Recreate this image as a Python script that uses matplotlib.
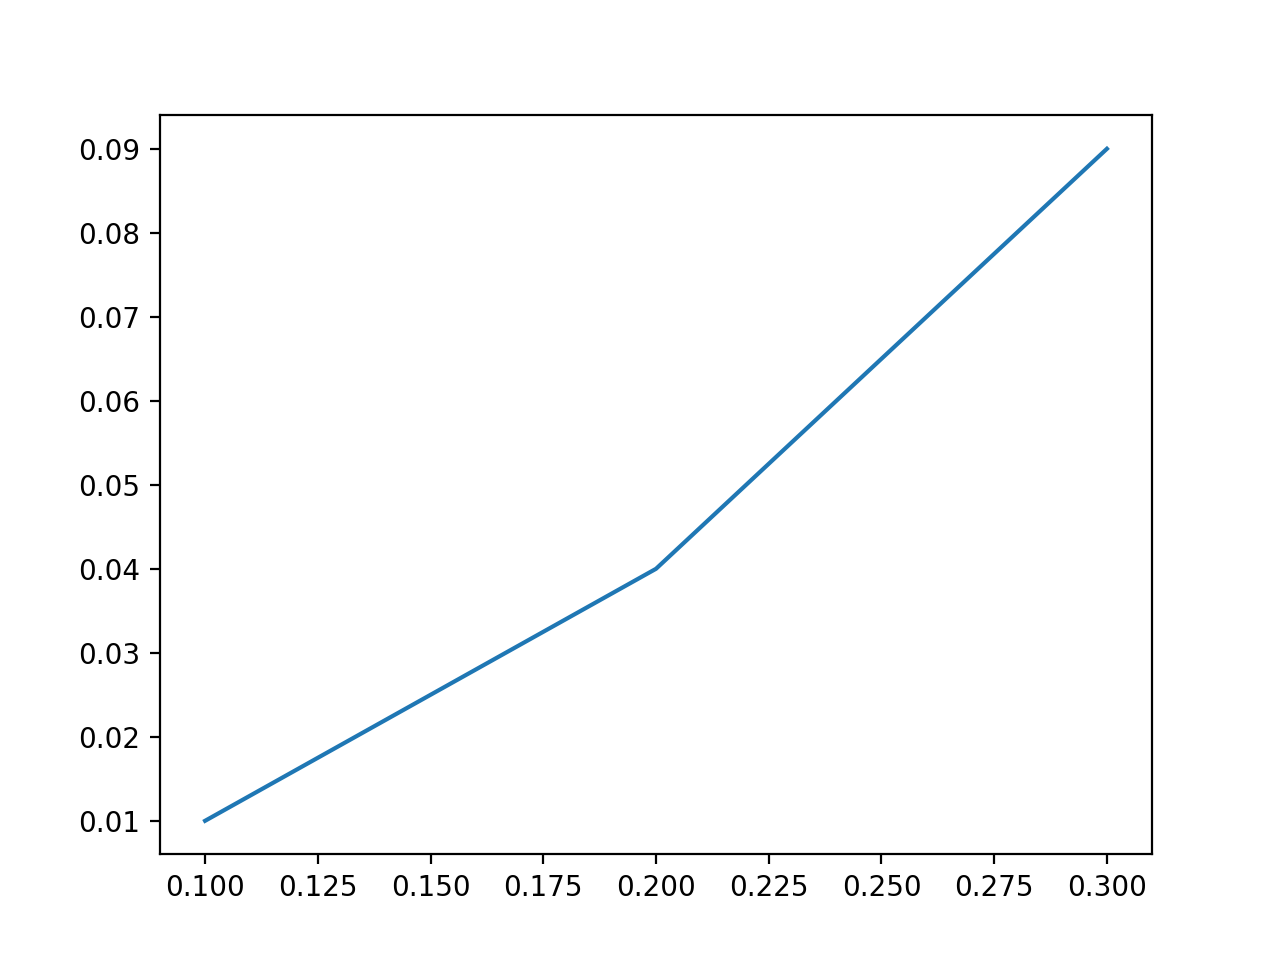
import matplotlib
matplotlib.use("Agg")
import matplotlib.pyplot as plt

x_values = [0.1, 0.2, 0.3]
y_values = [0.01, 0.04, 0.09]

fig, ax = plt.subplots(figsize=(6.4, 4.8), dpi=200)
ax.plot(x_values, y_values)
fig.savefig("out.png", dpi=200)
